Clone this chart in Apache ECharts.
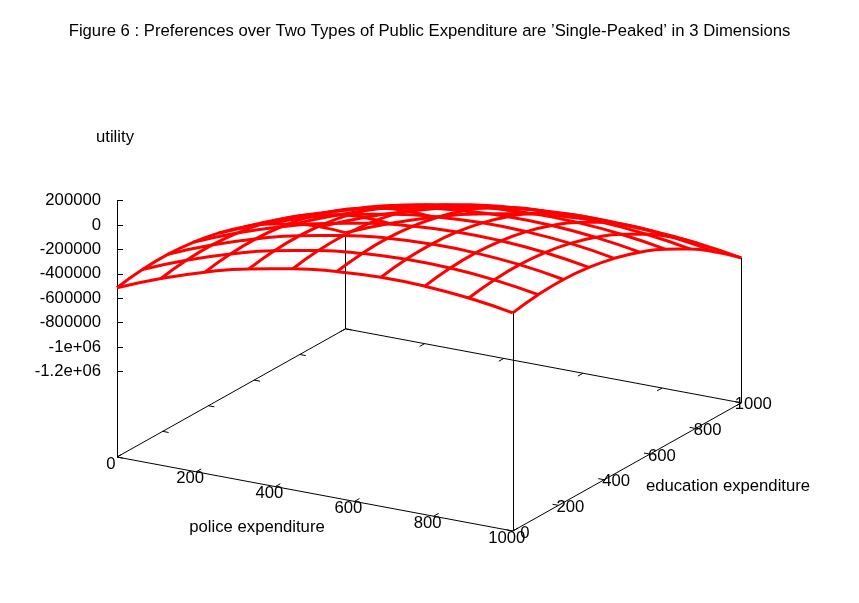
<!DOCTYPE html>
<html>
<head>
<meta charset="utf-8">
<title>Figure 6</title>
<script src="https://cdn.jsdelivr.net/npm/echarts@6/dist/echarts.min.js"></script>
<style>
    html, body { margin: 0; padding: 0; background: #fff; }
    #chart { width: 859px; height: 603px; }
</style>
</head>
<body>
<div id="chart"></div>
<script>
// isosample positions (10 x 10 grid)
const policeSamples = [0, 111.1, 222.2, 333.3, 444.4, 555.6, 666.7, 777.8, 888.9, 1000];
const educationSamples = [0, 111.1, 222.2, 333.3, 444.4, 555.6, 666.7, 777.8, 888.9, 1000];

// utility, one row per education sample, columns = police samples
const utilityRows = [
    [-513000, -370000, -251000, -157000, -88000, -44000, -24000, -29000, -59000, -113000],
    [-481000, -338000, -219000, -125000, -56000, -12000, 8000, 3000, -27000, -81000],
    [-473000, -330000, -212000, -118000, -49000, -4000, 15000, 10000, -19000, -73000],
    [-491000, -348000, -229000, -135000, -66000, -22000, -2000, -7000, -36000, -91000],
    [-533000, -390000, -271000, -177000, -108000, -64000, -44000, -49000, -78000, -133000],
    [-599000, -456000, -338000, -244000, -175000, -130000, -111000, -115000, -145000, -199000],
    [-691000, -548000, -429000, -335000, -266000, -222000, -202000, -207000, -236000, -291000],
    [-807000, -664000, -545000, -451000, -382000, -338000, -318000, -323000, -353000, -407000],
    [-948000, -804000, -686000, -592000, -523000, -478000, -459000, -464000, -493000, -548000],
    [-1113000, -970000, -851000, -757000, -688000, -644000, -624000, -629000, -659000, -713000]
];

const policeTicks = [0, 200, 400, 600, 800, 1000];
const educationTicks = [0, 200, 400, 600, 800, 1000];
const utilityTicks = [200000, 0, -200000, -400000, -600000, -800000, -1000000, -1200000];
const utilityTickLabels = ['200000', '0', '-200000', '-400000', '-600000', '-800000', '-1e+06', '-1.2e+06'];

const FONT = '"Liberation Sans", Arial, Helvetica, sans-serif';
const FONT_SIZE = 16.7;

const chart = echarts.init(document.getElementById('chart'));

// gnuplot style view: rot_x 60, rot_z 30, ticslevel 0.5
const deg = Math.PI / 180;
const viewRotX = 60, viewRotZ = 30;
const scaleX = 457, scaleY = 296;
const zTop = 200000, zBottom = -1200000, ticsLevel = 0.5;
const zBase = zBottom - ticsLevel * (zTop - zBottom);

function project(p, e, z) {
    const xn = p / 1000;
    const yn = e / 1000;
    const zn = (z - zBase) / (zTop - zBase);
    const cz = Math.cos(viewRotZ * deg), sz = Math.sin(viewRotZ * deg);
    const sx = scaleX * (xn * cz + yn * sz);
    const sy = scaleY * ((yn * cz - xn * sz) * Math.cos(viewRotX * deg) + zn * Math.sin(viewRotX * deg));
    return [sx, sy];
}

const red = '#ff0000';
const surfaceSeries = [];

// lines of constant education
utilityRows.forEach((row, j) => {
    surfaceSeries.push({
        type: 'line',
        data: row.map((u, i) => project(policeSamples[i], educationSamples[j], u)),
        smooth: true,
        showSymbol: false,
        lineStyle: { color: red, width: 3 },
        z: 5
    });
});

// lines of constant police
policeSamples.forEach((p, i) => {
    surfaceSeries.push({
        type: 'line',
        data: educationSamples.map((e, j) => project(p, e, utilityRows[j][i])),
        smooth: true,
        showSymbol: false,
        lineStyle: { color: red, width: 3 },
        z: 5
    });
});

// box: base, z axis, corner verticals up to the surface
const last = policeSamples.length - 1;
const frameSegments = [
    [project(0, 0, zBase), project(1000, 0, zBase)],
    [project(1000, 0, zBase), project(1000, 1000, zBase)],
    [project(1000, 1000, zBase), project(0, 1000, zBase)],
    [project(0, 1000, zBase), project(0, 0, zBase)],
    [project(0, 0, zBase), project(0, 0, zTop)],
    [project(1000, 0, zBase), project(1000, 0, utilityRows[0][last])],
    [project(1000, 1000, zBase), project(1000, 1000, utilityRows[last][last])],
    [project(0, 1000, zBase), project(0, 1000, utilityRows[last][0])]
];

// tic marks (with mirrors on the far edges)
const tickSegments = [];
policeTicks.forEach(t => {
    tickSegments.push([project(t, 0, zBase), project(t, 22, zBase)]);
    tickSegments.push([project(t, 1000, zBase), project(t, 978, zBase)]);
});
educationTicks.forEach(t => {
    tickSegments.push([project(1000, t, zBase), project(985, t, zBase)]);
    tickSegments.push([project(0, t, zBase), project(15, t, zBase)]);
});
utilityTicks.forEach(t => {
    const a = project(0, 0, t);
    tickSegments.push([a, [a[0] + 6, a[1]]]);
});

const labelStyle = {
    show: true, formatter: '{b}', color: '#000', textBorderWidth: 0, opacity: 1,
    fontSize: FONT_SIZE, fontFamily: FONT
};
const textFont = FONT_SIZE + 'px ' + FONT;

function tickLabelSeries(data, placement) {
    return {
        type: 'scatter',
        symbolSize: 0,
        silent: true,
        itemStyle: { opacity: 1 },
        data: data,
        label: Object.assign({}, labelStyle, placement)
    };
}

const option = {
    animation: false,
    backgroundColor: '#fff',
    title: {
        text: 'Figure 6 : Preferences over Two Types of Public Expenditure are ’Single-Peaked’ in 3 Dimensions',
        left: 'center',
        top: 23,
        padding: 0,
        textStyle: { fontSize: FONT_SIZE, fontWeight: 'normal', color: '#000', fontFamily: FONT }
    },
    grid: { left: 0, right: 0, top: 0, bottom: 0 },
    xAxis: { type: 'value', min: -117, max: 742, show: false },
    yAxis: { type: 'value', min: -146, max: 457, show: false },
    graphic: [
        { type: 'text', x: 115, y: 137, style: { text: 'utility', fill: '#000', font: textFont, textAlign: 'center', textVerticalAlign: 'middle' } },
        { type: 'text', x: 257, y: 527, style: { text: 'police expenditure', fill: '#000', font: textFont, textAlign: 'center', textVerticalAlign: 'middle' } },
        { type: 'text', x: 728, y: 486, style: { text: 'education expenditure', fill: '#000', font: textFont, textAlign: 'center', textVerticalAlign: 'middle' } }
    ],
    series: [
        {
            type: 'lines',
            coordinateSystem: 'cartesian2d',
            data: frameSegments.concat(tickSegments).map(c => ({ coords: c })),
            lineStyle: { color: '#000', width: 1, opacity: 1 },
            silent: true,
            z: 2
        },
        ...surfaceSeries,
        tickLabelSeries(
            utilityTicks.map((t, k) => ({ value: project(0, 0, t), name: utilityTickLabels[k] })),
            { position: 'left', distance: 16 }
        ),
        tickLabelSeries(
            policeTicks.map(t => ({ value: project(t, 0, zBase), name: String(t) })),
            { position: 'inside', offset: [-6, 7] }
        ),
        tickLabelSeries(
            educationTicks.map(t => ({ value: project(1000, t, zBase), name: String(t) })),
            { position: 'inside', offset: [12, 2] }
        )
    ]
};

chart.setOption(option);
</script>
</body>
</html>
